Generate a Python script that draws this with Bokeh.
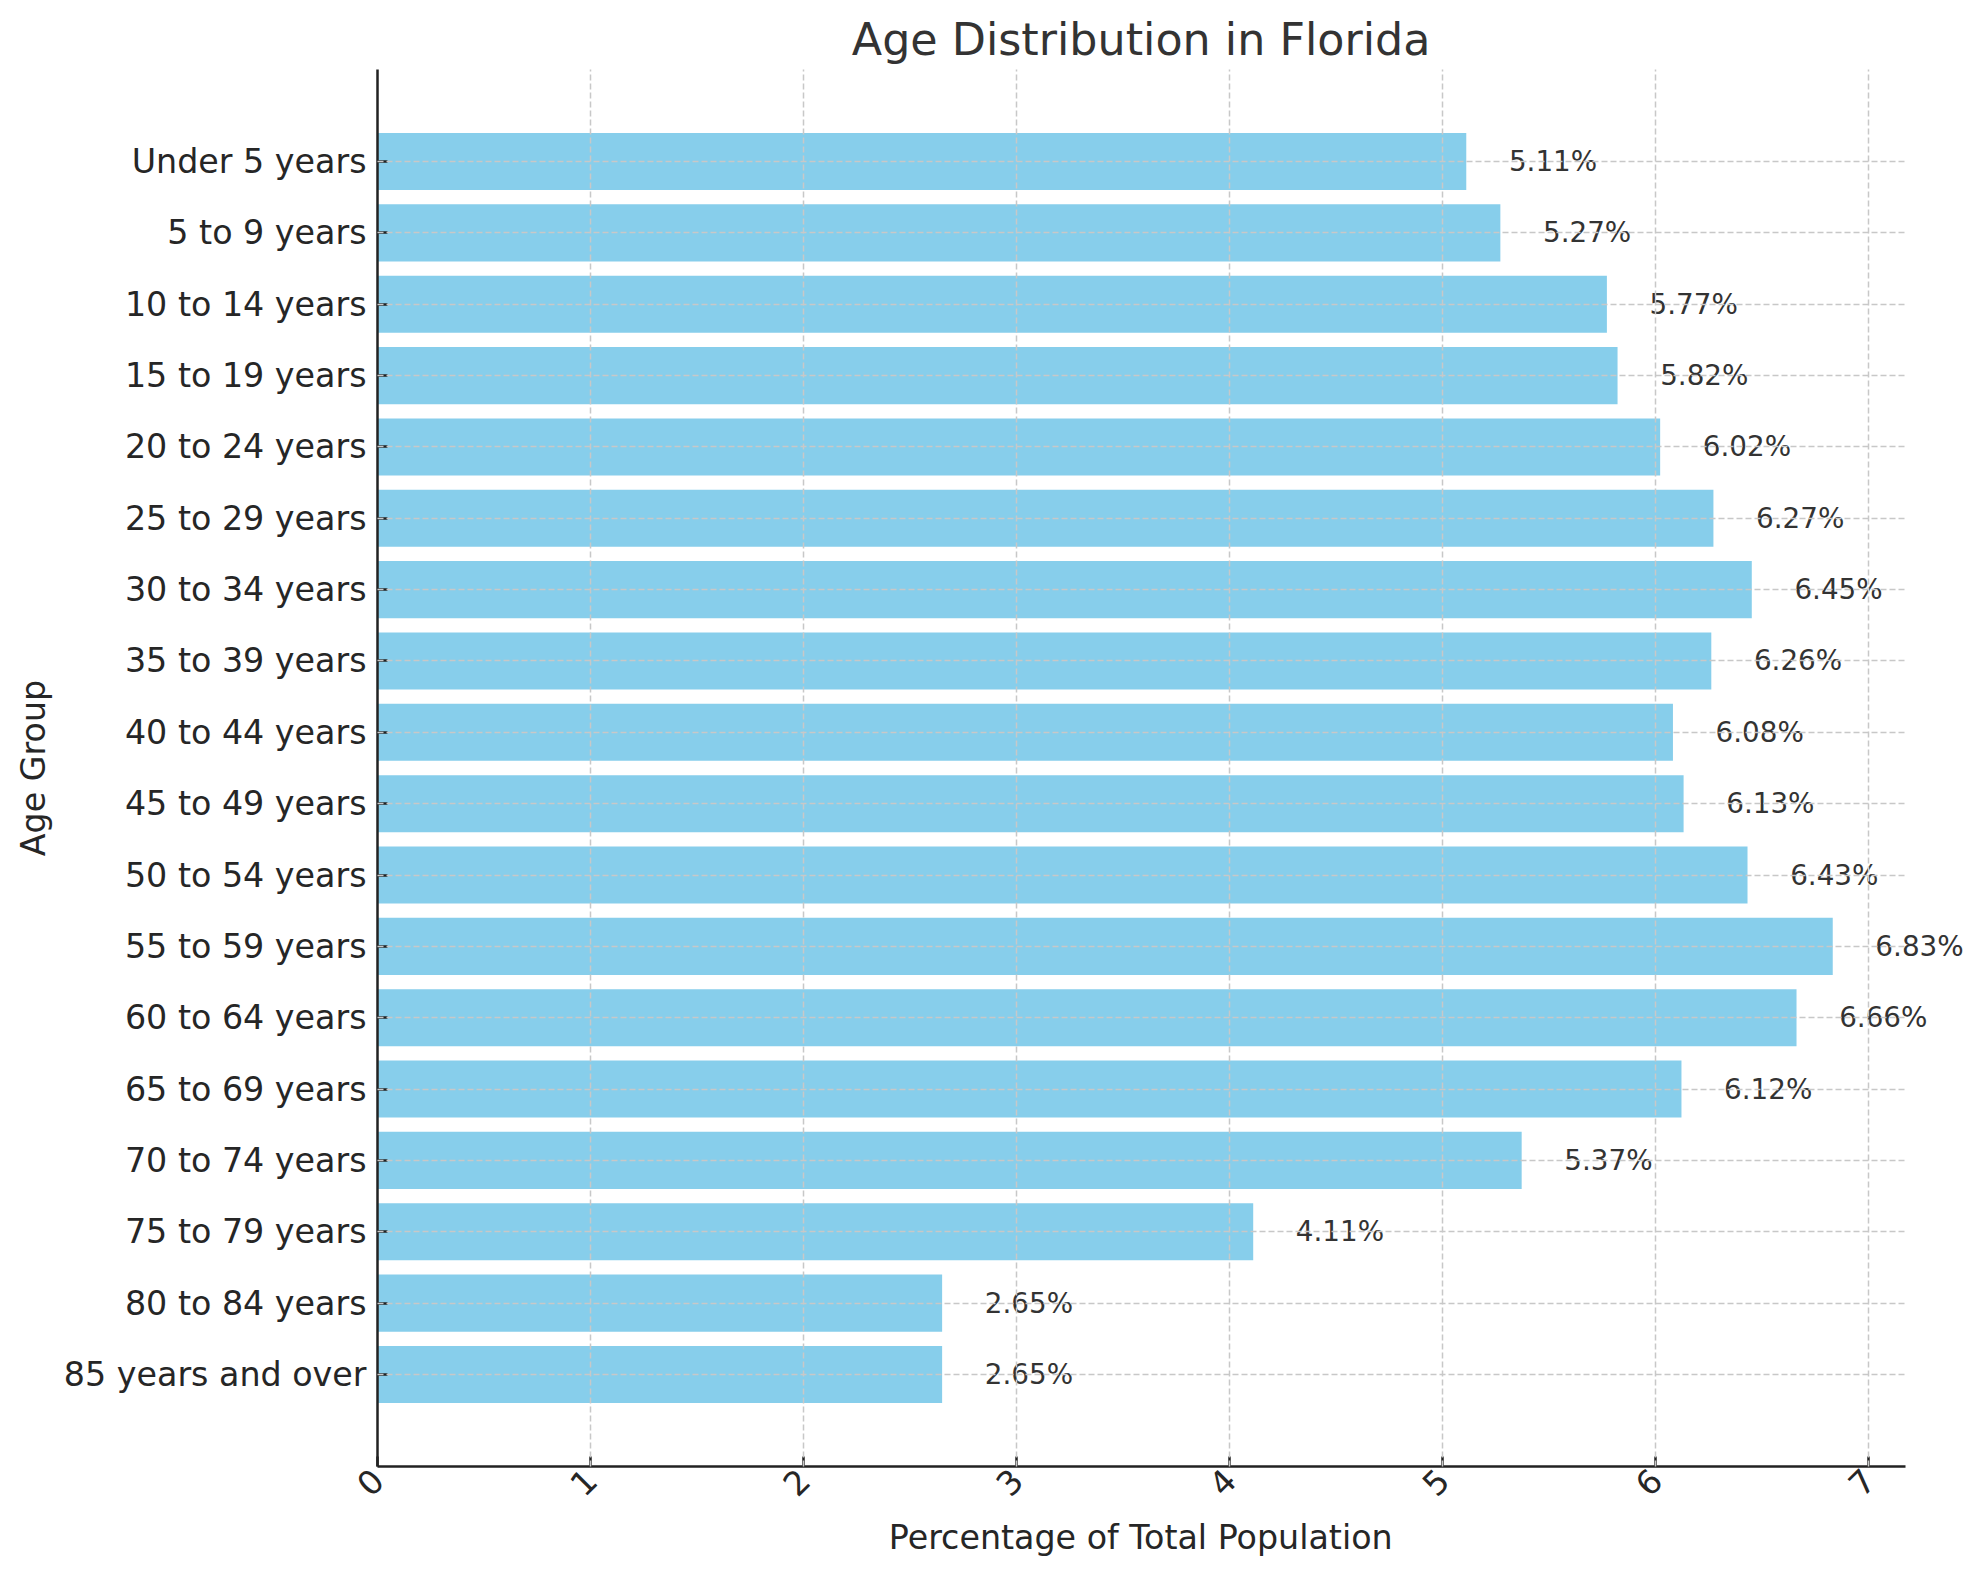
import math
from bokeh.plotting import figure
from bokeh.models import ColumnDataSource, FactorRange, Range1d, Title
from bokeh.transform import dodge
from bokeh.core.properties import value
from bokeh.embed import file_html
from bokeh.resources import INLINE

age_groups = [
    "Under 5 years", "5 to 9 years", "10 to 14 years", "15 to 19 years",
    "20 to 24 years", "25 to 29 years", "30 to 34 years", "35 to 39 years",
    "40 to 44 years", "45 to 49 years", "50 to 54 years", "55 to 59 years",
    "60 to 64 years", "65 to 69 years", "70 to 74 years", "75 to 79 years",
    "80 to 84 years", "85 years and over",
]
percentages = [5.11, 5.27, 5.77, 5.82, 6.02, 6.27, 6.45, 6.26, 6.08,
               6.13, 6.43, 6.83, 6.66, 6.12, 5.37, 4.11, 2.65, 2.65]
x_ticks = [0, 1, 2, 3, 4, 5, 6, 7]

labels = [f"{v:.2f}%" for v in percentages]
src = ColumnDataSource(dict(group=age_groups, pct=percentages, label=labels))

FONT = "DejaVu Sans"
X_AXIS_END = max(percentages) * 1.05   # where the axis line / grid stop
X_VIEW_END = 7.5                       # extra room so the last labels are not clipped
PX_PER_UNIT = 213
AXIS_PX = PX_PER_UNIT * X_AXIS_END     # on-screen length of the visible axis

p = figure(
    frame_width=round(PX_PER_UNIT * X_VIEW_END), frame_height=1397,
    y_range=FactorRange(factors=age_groups[::-1], range_padding=0.0878),
    x_range=Range1d(0, X_VIEW_END),
    output_backend="svg", toolbar_location=None,
    min_border_left=377, min_border_right=4,
    min_border_top=69, min_border_bottom=20,
)
p.outline_line_color = None
p.background_fill_color = "white"
p.border_fill_color = "white"

p.hbar(y="group", right="pct", left=0, height=0.8, source=src,
       fill_color="#87CEEB", line_color=None)

p.text(x=dodge("pct", 0.2), y="group", text="label", source=src,
       text_font=value(FONT), text_font_size="27.8px",
       text_baseline="middle", text_align="left", text_color="#333333")

# title centred over the visible axis extent
TITLE_W = 579
p.title = Title(text="Age Distribution in Florida", text_font=FONT,
                text_font_size="44.4px", text_font_style="normal",
                text_color="#333333", align="left",
                offset=(AXIS_PX - TITLE_W) / 2, standoff=9)

# grids on top, dashed
for g in (p.xgrid, p.ygrid):
    g.grid_line_color = "#c8c8c8"
    g.grid_line_width = 1.5
    g.grid_line_dash = "6 3"
    g.level = "overlay"
p.ygrid.cross_bounds = (0, X_AXIS_END)

# axes
for ax in (p.xaxis, p.yaxis):
    ax.axis_line_color = "#222222"
    ax.axis_line_width = 2.5
    ax.major_tick_line_color = "#222222"
    ax.major_tick_line_width = 2.5
    ax.major_tick_in = 10
    ax.major_tick_out = 0
    ax.minor_tick_line_color = None
    ax.major_label_text_font = FONT
    ax.major_label_text_font_size = "33.3px"
    ax.major_label_text_color = "#262626"
    ax.axis_label_text_font = FONT
    ax.axis_label_text_font_size = "33.3px"
    ax.axis_label_text_font_style = "normal"
    ax.axis_label_text_color = "#262626"

p.xaxis.ticker = x_ticks
p.xaxis.bounds = (0, X_AXIS_END)
p.xaxis.major_label_orientation = math.pi / 4
p.xaxis.major_label_standoff = 8

# x-axis label, centred under the visible axis extent
XLABEL_W = 505
p.add_layout(Title(text="Percentage of Total Population", text_font=FONT,
                   text_font_size="33.3px", text_font_style="normal",
                   text_color="#262626", align="left",
                   offset=(AXIS_PX - XLABEL_W) / 2, standoff=11), "below")

p.yaxis.major_label_standoff = 11
p.yaxis.axis_label = "Age Group"
p.yaxis.axis_label_standoff = 8

open("out.html", "w").write(file_html(p, INLINE))
